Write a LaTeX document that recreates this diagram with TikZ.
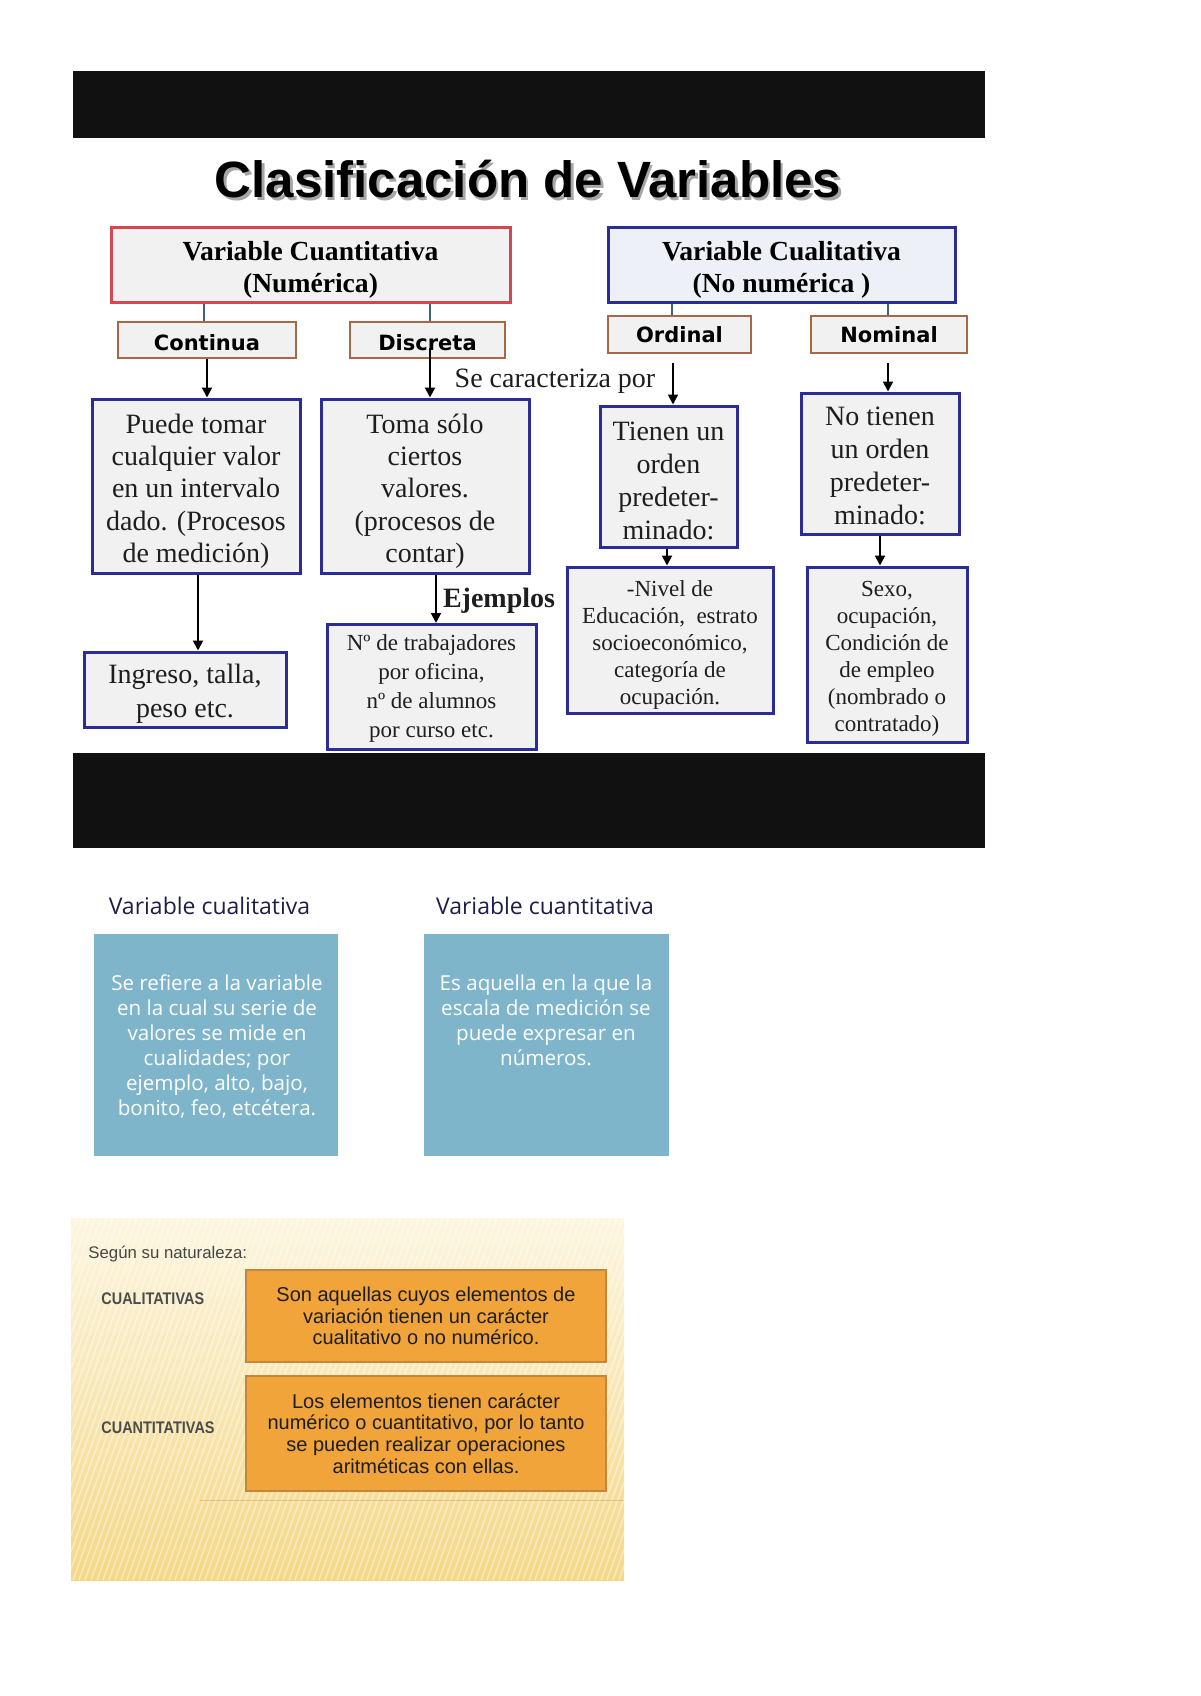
\documentclass[tikz,border=0pt]{standalone}
\usepackage{fontspec}
\setmainfont{Liberation Serif}
\newfontfamily\arialf{Liberation Sans}
\newfontfamily\dejab{DejaVu Sans}
\newfontfamily\opens{Open Sans}
\usetikzlibrary{arrows.meta}
\definecolor{redb}{RGB}{214,70,82}
\definecolor{blueb}{RGB}{44,44,150}
\definecolor{brownb}{RGB}{168,104,70}
\definecolor{boxgray}{RGB}{241,241,241}
\definecolor{boxblue}{RGB}{238,240,248}
\definecolor{tiecol}{RGB}{60,100,125}
\definecolor{barblack}{RGB}{17,17,17}
\definecolor{skyb}{RGB}{127,181,203}
\definecolor{navy}{RGB}{30,30,70}
\definecolor{orangef}{RGB}{240,164,58}
\definecolor{orangeb}{RGB}{196,134,60}
\definecolor{creamtop}{RGB}{252,246,224}
\definecolor{creambot}{RGB}{244,216,136}
\definecolor{textdark}{RGB}{30,30,30}
\definecolor{graytxt}{RGB}{70,70,70}
\begin{document}
\begin{tikzpicture}[x=0.5pt,y=-0.5pt,
  hdr/.style={draw, line width=1.5pt, inner sep=0pt},
  hdrtext/.style={align=center, text=black, inner sep=0pt, font=\bfseries\fontsize{13.8}{16}\selectfont},
  subbox/.style={draw=brownb, fill=boxgray, line width=1.2pt, inner sep=0pt},
  subtext/.style={inner sep=0pt, font=\dejab\bfseries\fontsize{10.5}{12}\selectfont},
  body/.style={draw=blueb, fill=boxgray, line width=1.5pt, inner sep=0pt},
  bodytext/.style={inner sep=0pt, align=center, text=textdark, font=\fontsize{14}{16.2}\selectfont},
  smalltext/.style={bodytext, font=\fontsize{11.5}{13.5}\selectfont},
  tie/.style={draw=tiecol, line width=0.9pt},
  arr/.style={draw=black, line width=1pt, -{Triangle[length=5pt,width=5pt]}},
  ctitle/.style={font=\opens\fontsize{11.5}{14}\selectfont, text=navy, anchor=base},
  cbox/.style={fill=skyb, draw=none, inner sep=0pt},
  ctext/.style={font=\opens\fontsize{10.3}{12.5}\selectfont, text=white, align=center, inner sep=0pt, anchor=north},
  obox/.style={fill=orangef, draw=orangeb, line width=0.8pt, inner sep=0pt, align=center,
    text=textdark, font=\arialf\fontsize{10}{10.8}\selectfont},
  olabel/.style={font=\arialf\fontsize{8.4}{10}\selectfont, text=graytxt, anchor=west, inner sep=0pt}
]
\useasboundingbox (0,0) rectangle (1200,1696);
\fill[white] (0,0) rectangle (1200,1696);

% black bars
\fill[barblack] (73,71) rectangle (985,138);
\fill[barblack] (73,753) rectangle (985,848);

% title
\node[font=\arialf\bfseries\fontsize{25.5}{30}\selectfont, text=black!35, anchor=base] (tshadow) at (530.5,200.5) {Clasificación de Variables};
\node[font=\arialf\bfseries\fontsize{25.5}{30}\selectfont, text=black, anchor=base] (title) at (528,198) {Clasificación de Variables};

% header boxes
\node[hdr, draw=redb, fill=boxgray, minimum width=199.5pt, minimum height=37pt] (qnt) at (310.5,265) {};
\node[hdrtext] (qntt) at ([yshift=-2.6pt]qnt.center) {Variable Cuantitativa\\(Numérica)};
\node[hdr, draw=blueb, fill=boxblue, minimum width=173.5pt, minimum height=37pt] (qlt) at (781.5,265) {};
\node[hdrtext] (qltt) at ([yshift=-2.6pt]qlt.center) {Variable Cualitativa\\(No numérica )};

% sub boxes
\node[subbox, minimum width=89pt, minimum height=18pt] (cont) at (207,340) {};
\node[subtext] (contt) at ([yshift=-1.5pt]cont.center) {Continua};
\node[subbox, minimum width=77.5pt, minimum height=18pt] (disc) at (427.5,340) {};
\node[subtext] (disct) at ([yshift=-1.5pt]disc.center) {Discreta};
\node[subbox, minimum width=71.5pt, minimum height=18.5pt] (ord) at (679.5,334.5) {};
\node[subtext] (ordt) at (ord.center) {Ordinal};
\node[subbox, minimum width=78pt, minimum height=18.5pt] (nom) at (889,334.5) {};
\node[subtext] (nomt) at (nom.center) {Nominal};

% body boxes
\node[body, minimum width=104pt, minimum height=87pt] (puede) at (196,486) {};
\node[bodytext] (puedet) at ([yshift=-2.6pt]puede.center) {Puede tomar\\cualquier valor\\en un intervalo\\dado. (Procesos\\de medición)};
\node[body, minimum width=104pt, minimum height=87pt] (toma) at (425,486) {};
\node[bodytext] (tomat) at ([yshift=-2.6pt]toma.center) {Toma sólo\\ciertos\\valores.\\(procesos de\\contar)};
\node[body, minimum width=101pt, minimum height=37.5pt] (ing) at (185,689.5) {};
\node[bodytext, font=\fontsize{14}{17}\selectfont] (ingt) at ([yshift=-2pt]ing.center) {Ingreso, talla,\\peso etc.};
\node[body, minimum width=104.5pt, minimum height=62.5pt] (ntr) at (431.5,687) {};
\node[smalltext, font=\fontsize{11.5}{14.5}\selectfont] (ntrt) at ([yshift=-0.6pt]ntr.center) {Nº de trabajadores\\por oficina,\\nº de alumnos\\por curso etc.};
\node[body, minimum width=68.5pt, minimum height=70.5pt] (tnn) at (668.5,476.5) {};
\node[bodytext, font=\fontsize{14}{16.6}\selectfont] (tnnt) at ([yshift=-2.2pt]tnn.center) {Tienen un\\orden\\predeter-\\minado:};
\node[body, minimum width=79pt, minimum height=70.5pt] (ntn) at (880,463.5) {};
\node[bodytext, font=\fontsize{14}{16.6}\selectfont] (ntnt) at ([yshift=-1.2pt]ntn.center) {No tienen\\un orden\\predeter-\\minado:};
\node[body, minimum width=103pt, minimum height=73pt] (niv) at (670,640) {};
\node[smalltext] (nivt) at ([yshift=-2.7pt]niv.center) {-Nivel de\\Educación,\ \ estrato\\socioeconómico,\\categoría de\\ocupación.};
\node[body, minimum width=80pt, minimum height=87.5pt] (sexo) at (887,654.5) {};
\node[smalltext] (sexot) at ([yshift=-2.2pt]sexo.center) {Sexo,\\ocupación,\\Condición de\\de empleo\\(nombrado o\\contratado)};

% labels
\node[font=\fontsize{14}{16}\selectfont, text=textdark] (secar) at (555,381) {Se caracteriza por};
\node[font=\bfseries\fontsize{14}{16}\selectfont, text=textdark] (ejem) at (499,601) {Ejemplos};

% connectors
\draw[tie] ([xshift=-1.5pt]cont.north) -- ([xshift=-1.5pt]cont.north |- qnt.south);
\draw[tie] ([xshift=1.25pt]disc.north) -- ([xshift=1.25pt]disc.north |- qnt.south);
\draw[tie] ([xshift=-3.75pt]ord.north) -- ([xshift=-3.75pt]ord.north |- qlt.south);
\draw[tie] ([xshift=-0.5pt]nom.north) -- ([xshift=-0.5pt]nom.north |- qlt.south);

\draw[arr] (cont.south) -- (cont.south |- puede.north);
\draw[arr] ([xshift=1.25pt,yshift=5.5pt]disc.south) -- ([xshift=1.25pt]disc.south |- toma.north);
\draw[arr] ([xshift=-3.25pt,yshift=-4.5pt]ord.south) -- ([xshift=-3.25pt]ord.south |- tnn.north);
\draw[arr] ([xshift=-0.5pt,yshift=-4.5pt]nom.south) -- ([xshift=-0.5pt]nom.south |- ntn.north);
\draw[arr] ([xshift=1pt]puede.south) -- ([xshift=1pt]puede.south |- ing.north);
\draw[arr] ([xshift=5.5pt]toma.south) -- ([xshift=5.5pt]toma.south |- ntr.north);
\draw[arr] ([xshift=-0.75pt]tnn.south) -- ([xshift=-0.75pt]tnn.south |- niv.north);
\draw[arr] (ntn.south) -- (ntn.south |- sexo.north);

% section 2
\node[ctitle] (c1t) at (209.5,914) {Variable cualitativa};
\node[ctitle] (c2t) at (545,914) {Variable cuantitativa};
\node[cbox, minimum width=122pt, minimum height=111pt] (c1) at (216,1045) {};
\node[cbox, minimum width=122.5pt, minimum height=111pt] (c2) at (546,1045) {};
\node[ctext] (c1x) at (217,974) {Se refiere a la variable\\en la cual su serie de\\valores se mide en\\cualidades; por\\ejemplo, alto, bajo,\\bonito, feo, etcétera.};
\node[ctext] (c2x) at (546,974) {Es aquella en la que la\\escala de medición se\\puede expresar en\\números.};

% section 3
\shade[top color=creamtop, bottom color=creambot] (71,1218) rectangle (624,1580);
\begin{scope}
  \clip (71,1218) rectangle (624,1580);
  \foreach \i in {-160,-154,...,560} {
    \draw[white, opacity=0.42, line width=0.7pt] ({71+\i},1580) -- ({201+\i},1218);
  }
\end{scope}
\draw[orangeb, opacity=0.35, line width=0.5pt] (200,1500) -- (624,1500);
\node[olabel, anchor=base west] (seg) at (88,1258) {Según su naturaleza:};
\node[olabel, text=black!70, font=\arialf\bfseries\fontsize{8.4}{10}\selectfont] (cual) at (101,1299) {\scalebox{0.86}[1]{CUALITATIVAS}};
\node[olabel, text=black!70, font=\arialf\bfseries\fontsize{8.4}{10}\selectfont] (cuan) at (101,1428) {\scalebox{0.86}[1]{CUANTITATIVAS}};
\node[obox, minimum width=180pt, minimum height=46pt] (o1) at (426,1316) {Son aquellas cuyos elementos de\\variación tienen un carácter\\cualitativo o no numérico.};
\node[obox, minimum width=180pt, minimum height=57.5pt] (o2) at (426,1433.5) {Los elementos tienen carácter\\numérico o cuantitativo, por lo tanto\\se pueden realizar operaciones\\aritméticas con ellas.};
\end{tikzpicture}
\end{document}
